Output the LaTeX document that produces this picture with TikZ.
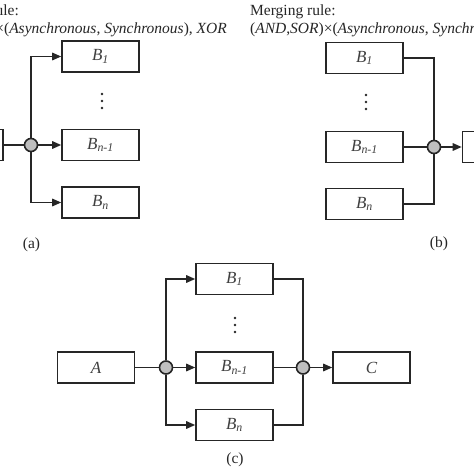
\documentclass[tikz,border=0pt]{standalone}
\usepackage{fontspec}
\setmainfont{Liberation Serif}
\usetikzlibrary{arrows.meta}
\newcommand{\Bsub}[1]{\textit{B}\textsubscript{\textit{#1}}}
\begin{document}
\begin{tikzpicture}[x=1pt,y=-1pt,
  font=\fontsize{15.5}{18}\selectfont,
  box/.style={draw=black!85,line width=1.6pt,minimum width=77pt,minimum height=31pt,inner sep=0pt,text=black!75,font=\fontsize{17}{20}\selectfont},
  junc/.style={circle,draw=black!85,fill=black!25,line width=1.6pt,minimum size=13pt,inner sep=0pt},
  conn/.style={draw=black!85,line width=1.6pt},
  arr/.style={conn,-{Triangle[length=9pt,width=7.5pt]}},
  dotpt/.style={circle,fill=black!85,minimum size=2.8pt,inner sep=0pt},
  txt/.style={inner sep=0pt,text=black!85}]
\useasboundingbox (0,0) rectangle (474,474);
\clip (0,0) rectangle (474,474);
\fill[white] (0,0) rectangle (474,474);

% ---------- panel (a) ----------
\node[txt,anchor=base east] (ta1) at (19,15) {Splitting rule:};
\node[txt,anchor=base east] (ta2) at (227,33) {(\textit{AND},\textit{SOR})×(\textit{Asynchronous}, \textit{Synchronous}), \textit{XOR}};
\node[box] (Aa) at (-35.5,145) {\textit{A}};
\node[junc] (ca) at (31,145) {};
\node[box] (B1a) at (100.5,56.5) {\Bsub{1}};
\node[box] (Bma) at (100.5,145) {\Bsub{n-1}};
\node[box] (Bna) at (100.5,202.5) {\Bsub{n}};
\draw[conn] (Aa.east) -- (ca.west);
\draw[arr] (ca.north) |- (B1a.west);
\draw[arr] (ca.east) -- (Bma.west);
\draw[arr] (ca.south) |- (Bna.west);
\node[dotpt] (da1) at (102,94) {};
\node[dotpt] (da2) at (102,101) {};
\node[dotpt] (da3) at (102,108) {};
\node[txt] (la) at (31.5,245) {(a)};

% ---------- panel (b) ----------
\node[txt,anchor=base west] (tb1) at (250,15) {Merging rule:};
\node[txt,anchor=base west] (tb2) at (250,33) {(\textit{AND},\textit{SOR})×(\textit{Asynchronous}, \textit{Synchronous})};
\node[box] (B1b) at (364.5,58) {\Bsub{1}};
\node[box] (Bmb) at (364.5,147) {\Bsub{n-1}};
\node[box] (Bnb) at (364.5,204) {\Bsub{n}};
\node[junc] (cb) at (434,147) {};
\node[box] (Cb) at (501,147) {\textit{C}};
\draw[conn] (B1b.east) -| (cb.north);
\draw[conn] (Bmb.east) -- (cb.west);
\draw[conn] (Bnb.east) -| (cb.south);
\draw[arr] (cb.east) -- (Cb.west);
\node[dotpt] (db1) at (366,95) {};
\node[dotpt] (db2) at (366,102) {};
\node[dotpt] (db3) at (366,109) {};
\node[txt] (lb) at (439,244) {(b)};

% ---------- panel (c) ----------
\node[box] (Ac) at (96,367.5) {\textit{A}};
\node[junc] (cc1) at (166,367.5) {};
\node[box] (B1c) at (234.5,279) {\Bsub{1}};
\node[box] (Bmc) at (234.5,367.5) {\Bsub{n-1}};
\node[box] (Bnc) at (234.5,425) {\Bsub{n}};
\node[junc] (cc2) at (303,367.5) {};
\node[box] (Cc) at (371.5,367.5) {\textit{C}};
\draw[conn] (Ac.east) -- (cc1.west);
\draw[arr] (cc1.north) |- (B1c.west);
\draw[arr] (cc1.east) -- (Bmc.west);
\draw[arr] (cc1.south) |- (Bnc.west);
\draw[conn] (B1c.east) -| (cc2.north);
\draw[conn] (Bmc.east) -- (cc2.west);
\draw[conn] (Bnc.east) -| (cc2.south);
\draw[arr] (cc2.east) -- (Cc.west);
\node[dotpt] (dc1) at (235,318) {};
\node[dotpt] (dc2) at (235,325) {};
\node[dotpt] (dc3) at (235,332) {};
\node[txt] (lc) at (235,460) {(c)};
\end{tikzpicture}
\end{document}
